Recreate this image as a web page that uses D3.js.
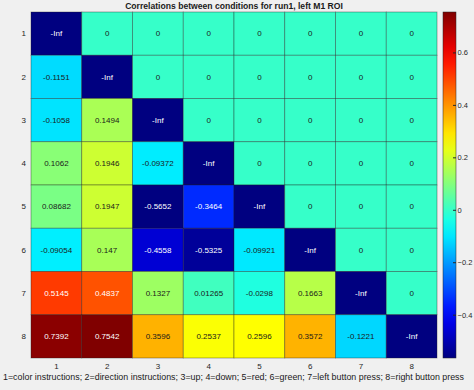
<!DOCTYPE html>
<html>
<head>
<meta charset="utf-8">
<script src="https://cdn.jsdelivr.net/npm/d3@7"></script>
<style>
  body { margin: 0; background: #f0f0f0; }
  svg { display: block; font-family: "Liberation Sans", Arial, sans-serif; }
</style>
</head>
<body>
<svg id="chart"></svg>
<script>
// conditions (rows and columns)
const conditions = ['1', '2', '3', '4', '5', '6', '7', '8'];

// correlation matrix rows, -Infinity on the diagonal
const row1 = [-Infinity, 0, 0, 0, 0, 0, 0, 0];
const row2 = [-0.1151, -Infinity, 0, 0, 0, 0, 0, 0];
const row3 = [-0.1058, 0.1494, -Infinity, 0, 0, 0, 0, 0];
const row4 = [0.1062, 0.1946, -0.09372, -Infinity, 0, 0, 0, 0];
const row5 = [0.08682, 0.1947, -0.5652, -0.3464, -Infinity, 0, 0, 0];
const row6 = [-0.09054, 0.147, -0.4558, -0.5325, -0.09921, -Infinity, 0, 0];
const row7 = [0.5145, 0.4837, 0.1327, 0.01265, -0.0298, 0.1663, -Infinity, 0];
const row8 = [0.7392, 0.7542, 0.3596, 0.2537, 0.2596, 0.3572, -0.1221, -Infinity];
const matrix = [row1, row2, row3, row4, row5, row6, row7, row8];

const colorTicks = [-0.4, -0.2, 0, 0.2, 0.4, 0.6];

const titleText = 'Correlations between conditions for run1, left M1 ROI';
const xLabelText = '1=color instructions; 2=direction instructions; 3=up; 4=down; 5=red; 6=green; 7=left button press; 8=right button press';

const W = 474, H = 390;
const margin = { top: 12, left: 31, right: 37, bottom: 32 };
const width = 437 - margin.left;
const height = 358 - margin.top;

const cells = [];
matrix.forEach((r, i) => r.forEach((v, j) => cells.push({ row: conditions[i], col: conditions[j], value: v })));

const finite = cells.map(d => d.value).filter(v => isFinite(v));
const cmin = d3.min(finite), cmax = d3.max(finite);

// MATLAB jet
function jet(t) {
  const c = x => Math.max(0, Math.min(1, x));
  const r = c(1.5 - Math.abs(4 * t - 3));
  const g = c(1.5 - Math.abs(4 * t - 2));
  const b = c(1.5 - Math.abs(4 * t - 1));
  return d3.rgb(r * 255, g * 255, b * 255);
}
const color = d3.scaleSequential(jet).domain([cmin, cmax]).clamp(true);
const fill = v => color(isFinite(v) ? v : cmin);

const fmt = v => {
  if (v === -Infinity) return '-Inf';
  if (v === 0) return '0';
  return String(+v.toPrecision(4));
};

const svg = d3.select('#chart').attr('width', W).attr('height', H);

const g = svg.append('g').attr('transform', `translate(${margin.left},${margin.top})`);

const x = d3.scaleBand().domain(conditions).range([0, width]);
const y = d3.scaleBand().domain(conditions).range([0, height]);

svg.append('text')
  .attr('x', margin.left + width / 2)
  .attr('y', 9)
  .attr('text-anchor', 'middle')
  .attr('font-size', 8.6)
  .attr('font-weight', 'bold')
  .attr('fill', '#1a1a1a')
  .text(titleText);

g.selectAll('rect.cell')
  .data(cells)
  .enter().append('rect')
    .attr('class', 'cell')
    .attr('x', d => x(d.col))
    .attr('y', d => y(d.row))
    .attr('width', x.bandwidth())
    .attr('height', y.bandwidth())
    .attr('fill', d => fill(d.value))
    .attr('stroke', 'rgba(30,30,30,0.45)')
    .attr('stroke-width', 0.8);

g.selectAll('text.val')
  .data(cells)
  .enter().append('text')
    .attr('class', 'val')
    .attr('x', d => x(d.col) + x.bandwidth() / 2)
    .attr('y', d => y(d.row) + y.bandwidth() / 2)
    .attr('dy', '0.35em')
    .attr('text-anchor', 'middle')
    .attr('font-size', 8)
    .attr('fill', d => {
      const c = d3.rgb(fill(d.value));
      const lum = (0.2126 * c.r + 0.7152 * c.g + 0.0722 * c.b) / 255;
      return lum < 0.5 ? '#ffffff' : '#1a1a1a';
    })
    .text(d => fmt(d.value));

// row labels
g.selectAll('text.rowlab')
  .data(conditions)
  .enter().append('text')
    .attr('class', 'rowlab')
    .attr('x', -5)
    .attr('y', d => y(d) + y.bandwidth() / 2)
    .attr('dy', '0.35em')
    .attr('text-anchor', 'end')
    .attr('font-size', 8)
    .attr('fill', '#262626')
    .text(d => d);

// column labels
g.selectAll('text.collab')
  .data(conditions)
  .enter().append('text')
    .attr('class', 'collab')
    .attr('x', d => x(d) + x.bandwidth() / 2)
    .attr('y', height + 11)
    .attr('text-anchor', 'middle')
    .attr('font-size', 8)
    .attr('fill', '#262626')
    .text(d => d);

svg.append('text')
  .attr('x', 3)
  .attr('y', 380)
  .attr('font-size', 9)
  .attr('textLength', 461)
  .attr('lengthAdjust', 'spacingAndGlyphs')
  .attr('fill', '#1a1a1a')
  .text(xLabelText);

// colorbar
const cbX = 443, cbW = 13;
const cbScale = d3.scaleLinear().domain([cmin, cmax]).range([margin.top + height, margin.top]);

const defs = svg.append('defs');
const grad = defs.append('linearGradient')
  .attr('id', 'jetgrad')
  .attr('x1', 0).attr('y1', 1).attr('x2', 0).attr('y2', 0);
d3.range(0, 1.0001, 0.05).forEach(t => {
  grad.append('stop').attr('offset', t).attr('stop-color', jet(t));
});

svg.append('rect')
  .attr('x', cbX)
  .attr('y', margin.top)
  .attr('width', cbW)
  .attr('height', height)
  .attr('fill', 'url(#jetgrad)')
  .attr('stroke', '#262626')
  .attr('stroke-width', 0.5);

const cbAxis = d3.axisRight(cbScale).tickValues(colorTicks).tickSize(3).tickFormat(d3.format('~g'));
const ca = svg.append('g')
  .attr('transform', `translate(${cbX + cbW},0)`)
  .call(cbAxis);
ca.select('.domain').remove();
ca.selectAll('.tick line').attr('x1', -3).attr('x2', 0).attr('stroke', '#262626');
ca.selectAll('.tick text')
  .attr('x', 1.5)
  .attr('font-family', '"Liberation Sans", Arial, sans-serif')
  .attr('font-size', 7.5)
  .attr('fill', '#262626');
</script>
</body>
</html>
